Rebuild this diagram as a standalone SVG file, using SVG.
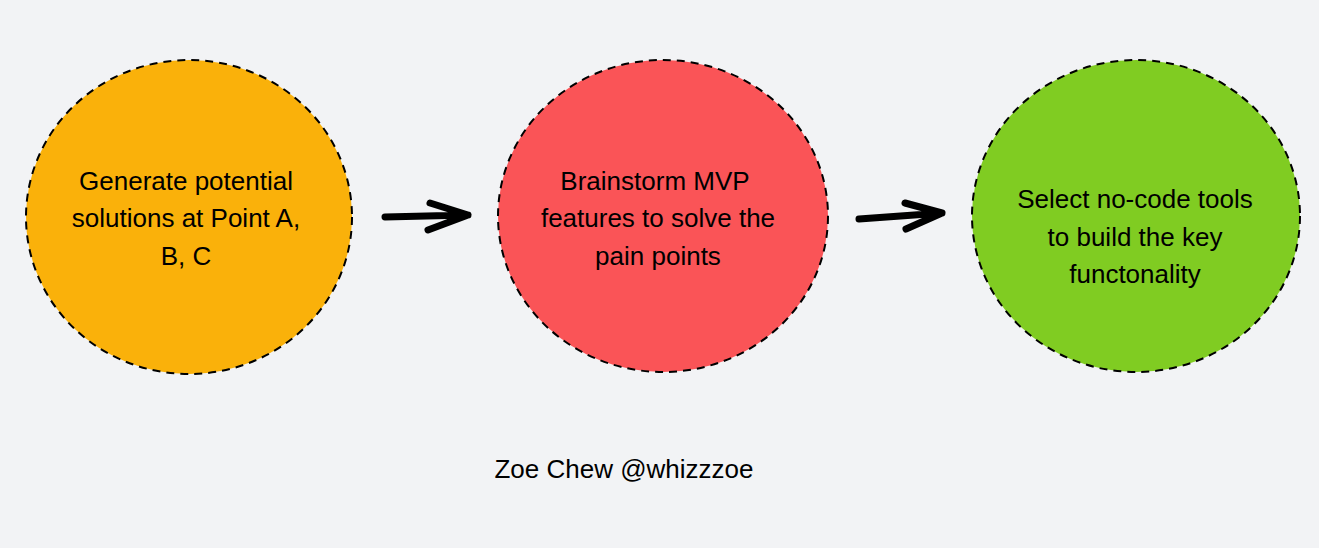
<svg xmlns="http://www.w3.org/2000/svg" width="1319" height="548" viewBox="0 0 1319 548">
<style>
.c{stroke:#000;stroke-width:2;stroke-dasharray:8 6}
.t{font-family:"Liberation Sans",Arial,sans-serif;font-size:26px;fill:#000;text-anchor:middle}
.a{stroke:#000;stroke-width:7;stroke-linecap:round;stroke-linejoin:round;fill:none}
</style>
<rect width="1319" height="548" fill="#F2F3F5"/>
<g id="node1"><ellipse class="c" cx="189" cy="217" rx="163" ry="157" fill="#FAB10A"/>
<text class="t" x="186" y="190">Generate potential</text><text class="t" x="186" y="227">solutions at Point A,</text><text class="t" x="186" y="265">B, C</text></g>
<g id="node2"><ellipse class="c" cx="663" cy="216" rx="165" ry="156" fill="#FA5457"/>
<text class="t" x="655" y="190">Brainstorm MVP</text><text class="t" x="658" y="227">features to solve the</text><text class="t" x="658" y="265">pain points</text></g>
<g id="node3"><ellipse class="c" cx="1136" cy="216" rx="164" ry="156" fill="#80CC22"/>
<text class="t" x="1135" y="208">Select no-code tools</text><text class="t" x="1135" y="246">to build the key</text><text class="t" x="1135" y="283">functonality</text></g>
<g id="connectors">
<path class="a" d="M385 217 L468 215 M430 203 L468 215 L428 230"/>
<path class="a" d="M859 219 L942 213 M905 203 L942 213 L906 229"/>
</g>
<text x="624" y="478" style="font-family:'Liberation Sans',Arial,sans-serif;font-size:26px;text-anchor:middle">Zoe Chew @whizzzoe</text>
</svg>
